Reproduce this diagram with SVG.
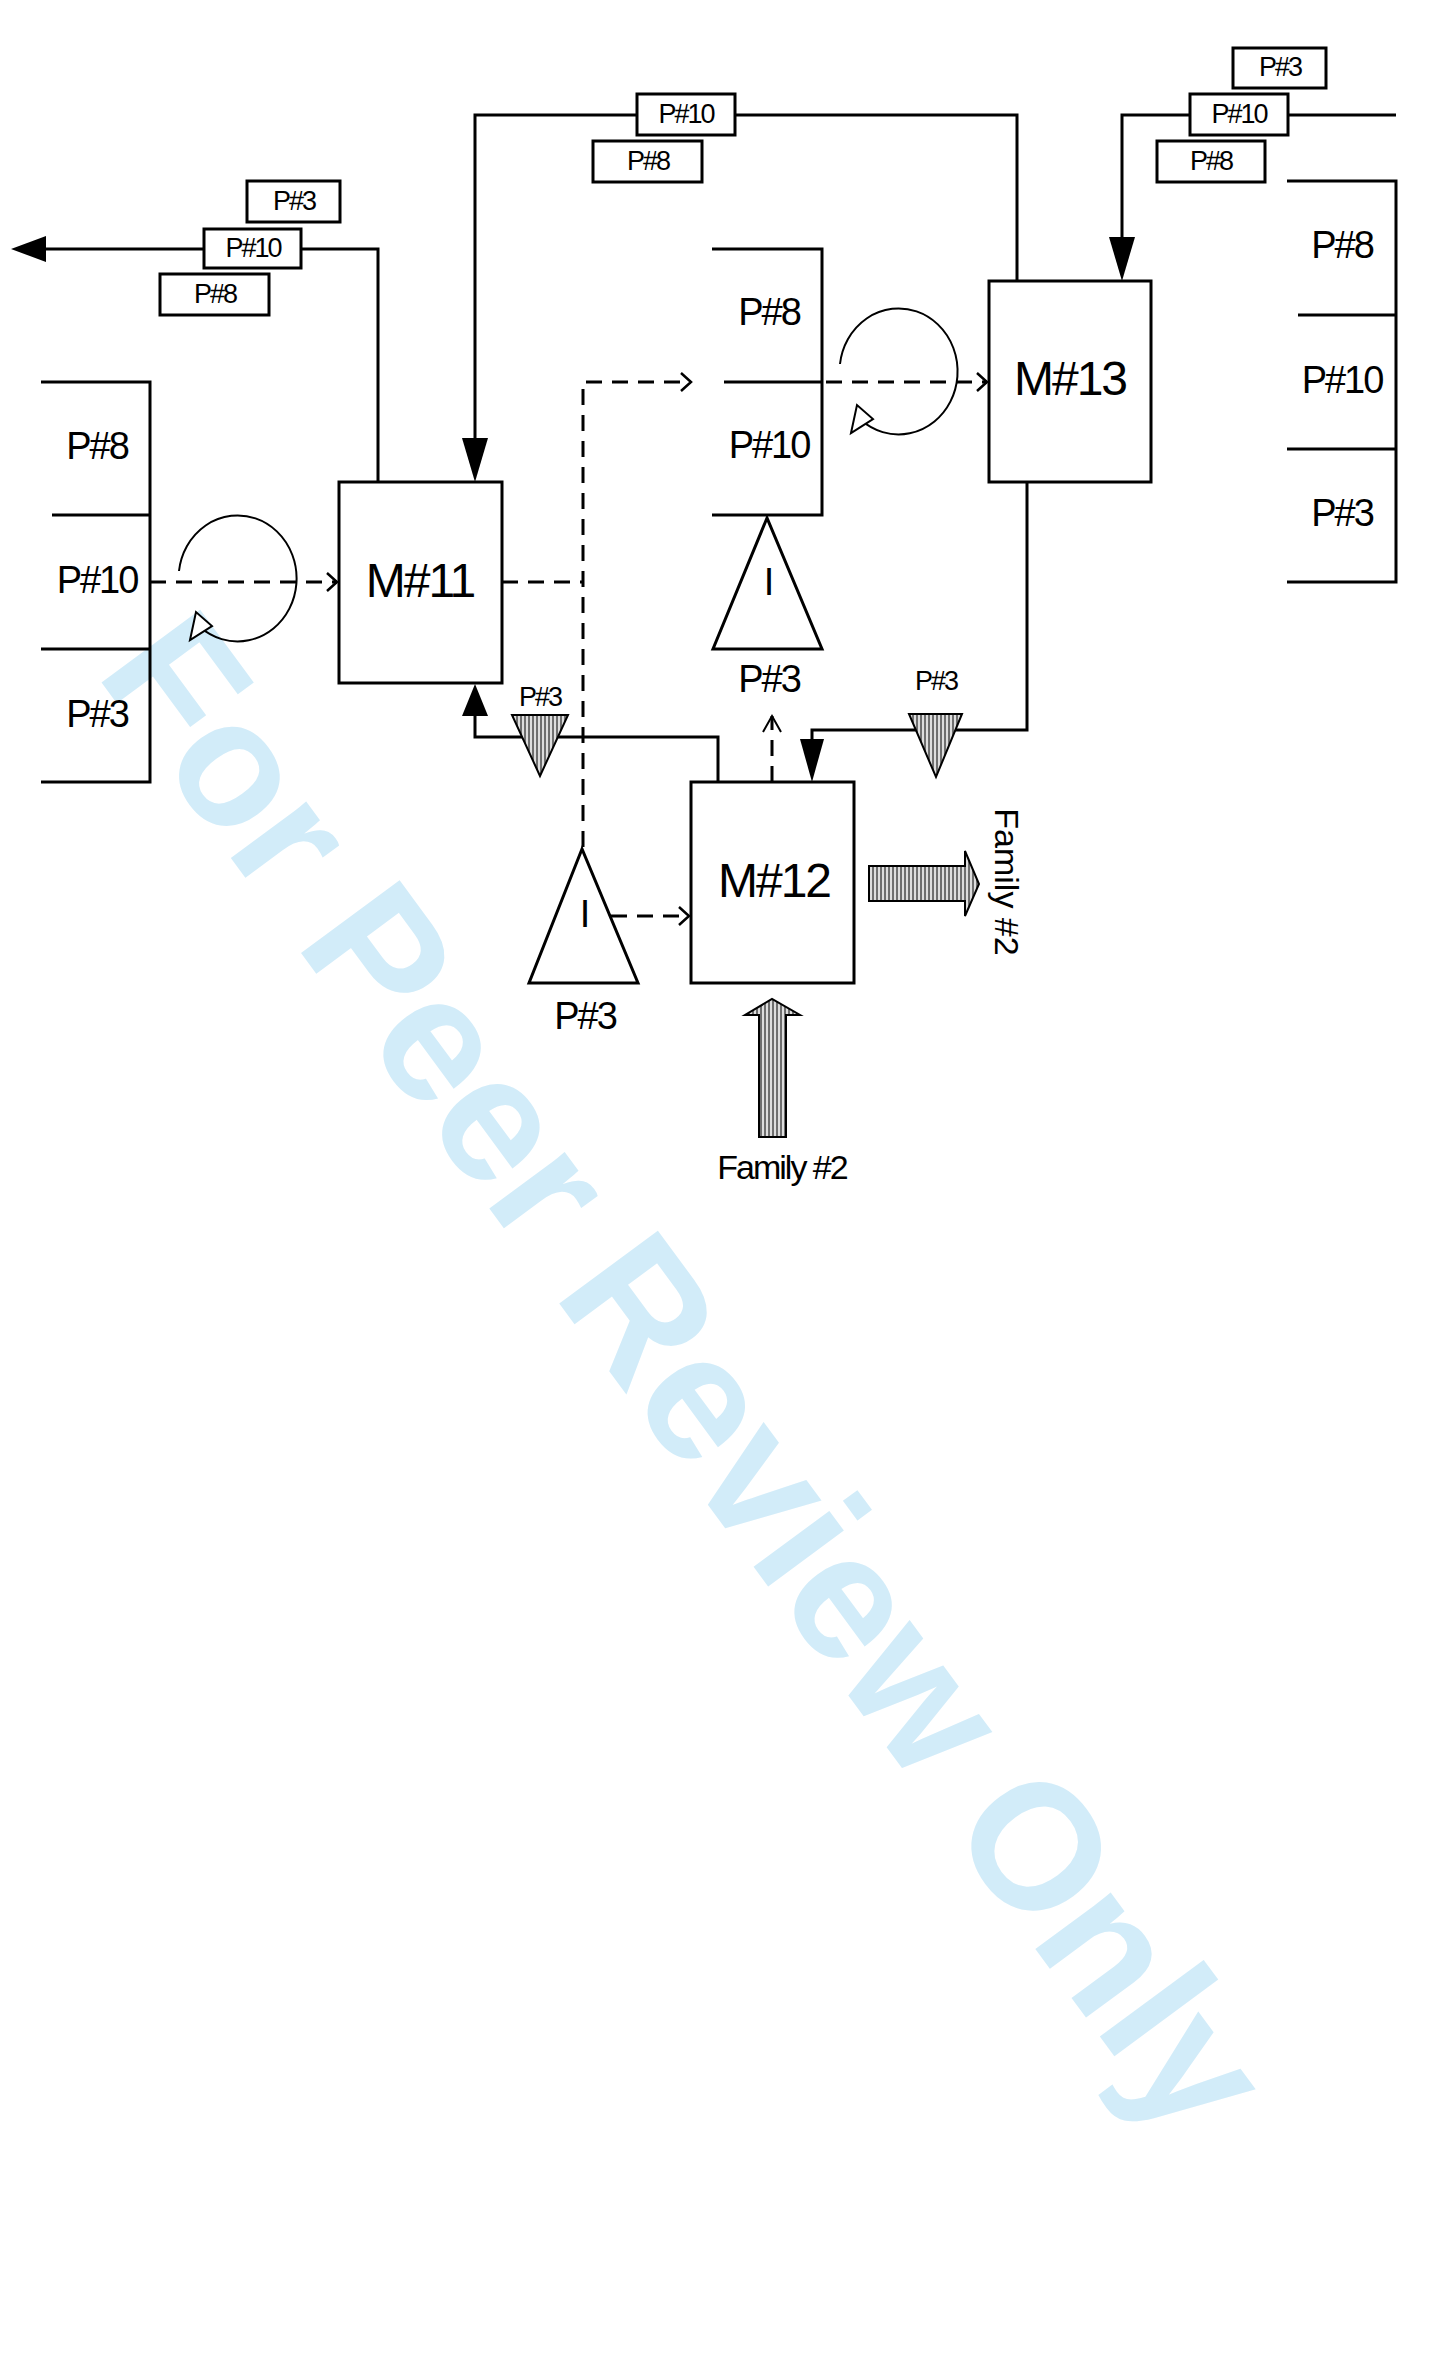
<svg xmlns="http://www.w3.org/2000/svg" width="1430" height="2375" viewBox="0 0 1430 2375">
<style>
.l{fill:none;stroke:#000;stroke-width:3}
.t{fill:none;stroke:#000;stroke-width:2}
.d{fill:none;stroke:#000;stroke-width:3;stroke-dasharray:16,10}
.bx{fill:#fff;stroke:#000;stroke-width:3}
text{font-family:"Liberation Sans",Arial,sans-serif;fill:#000;text-anchor:middle;dominant-baseline:central;letter-spacing:-2px}
.s{font-size:27px}.m{font-size:38px}.b{font-size:48px}
.h{fill:url(#hatch);stroke:#000;stroke-width:2}
</style>
<defs>
<pattern id="hatch" width="4" height="4" patternUnits="userSpaceOnUse"><rect width="4" height="4" fill="#ddd"/><line x1="1" y1="0" x2="1" y2="4" stroke="#000" stroke-width="1"/></pattern>
<marker id="fa" markerWidth="12" markerHeight="12" viewBox="0 0 12 12" refX="12" refY="6" orient="auto" markerUnits="userSpaceOnUse"><path d="M0,0 L12,6 L0,12z" fill="#000"/></marker>
<marker id="oa" markerWidth="14" markerHeight="20" viewBox="0 0 14 20" refX="12" refY="10" orient="auto" markerUnits="userSpaceOnUse"><path d="M2,1 L12,10 L2,19" fill="none" stroke="#000" stroke-width="2.5"/></marker>
</defs>
<text x="687" y="1373" transform="rotate(53.6 687 1373)" style="font-size:178px;font-weight:bold;fill:#d2ecf9;letter-spacing:0">For Peer Review Only</text>

<g id="connectors">
<polyline class="l" points="378,482 378,249 46,249"/>
<polygon points="11,249 46,236 46,262" fill="#000"/>
<polyline class="l" points="1017,281 1017,115 475,115 475,438"/>
<polygon points="475,482 462,438 488,438" fill="#000"/>
<polyline class="l" points="1396,115 1122,115 1122,237"/>
<polygon points="1122,281 1109,237 1135,237" fill="#000"/>
<polyline class="l" points="718,782 718,737 475,737 475,716"/>
<polygon points="475,684 462,716 488,716" fill="#000"/>
<polyline class="l" points="1027,482 1027,730 812,730 812,750"/>
<polygon points="812,782 800,739 824,739" fill="#000"/>
<line class="d" x1="150" y1="582" x2="337" y2="582" marker-end="url(#oa)"/>
<polyline class="d" points="502,582 583,582"/>
<polyline class="d" points="583,847 583,382 691,382" marker-end="url(#oa)"/>
<line class="l" x1="724" y1="382" x2="822" y2="382"/>
<line class="d" x1="826" y1="382" x2="987" y2="382" marker-end="url(#oa)"/>
<line class="d" x1="611" y1="916" x2="689" y2="916" marker-end="url(#oa)"/>
<line class="d" x1="772" y1="782" x2="772" y2="716"/>
<path class="t" d="M763,732 L772,716 L781,732"/>
</g>

<g id="recirc1"><path class="t" d="M179,571 A59,63 0 1 1 200,627"/><polygon points="190,640 196,612 212,626" fill="#fff" stroke="#000" stroke-width="2"/></g>
<g id="recirc2"><path class="t" d="M840,364 A59,63 0 1 1 861,420"/><polygon points="851,433 857,405 873,419" fill="#fff" stroke="#000" stroke-width="2"/></g>

<g id="stackL"><polyline class="l" points="41,382 150,382 150,782 41,782"/><line class="l" x1="52" y1="515" x2="150" y2="515"/><line class="l" x1="41" y1="649" x2="150" y2="649"/>
<text class="m" x="97" y="446">P#8</text><text class="m" x="97" y="580">P#10</text><text class="m" x="97" y="714">P#3</text></g>
<g id="stackM"><polyline class="l" points="712,249 822,249 822,515 712,515"/>
<text class="m" x="769" y="312">P#8</text><text class="m" x="769" y="445">P#10</text></g>
<g id="stackR"><polyline class="l" points="1287,181 1396,181 1396,582 1287,582"/><line class="l" x1="1298" y1="315" x2="1396" y2="315"/><line class="l" x1="1287" y1="449" x2="1396" y2="449"/>
<text class="m" x="1342" y="245">P#8</text><text class="m" x="1342" y="380">P#10</text><text class="m" x="1342" y="513">P#3</text></g>

<g id="M11"><rect class="bx" x="339" y="482" width="163" height="201"/><text class="b" x="420" y="580">M#11</text></g>
<g id="M13"><rect class="bx" x="989" y="281" width="162" height="201"/><text class="b" x="1070" y="378">M#13</text></g>
<g id="M12"><rect class="bx" x="691" y="782" width="163" height="201"/><text class="b" x="774" y="880">M#12</text></g>

<g id="tags1"><rect class="bx" x="247" y="181" width="93" height="41"/><text class="s" x="294" y="201">P#3</text>
<rect class="bx" x="204" y="229" width="97" height="39"/><text class="s" x="253" y="248">P#10</text>
<rect class="bx" x="160" y="274" width="109" height="41"/><text class="s" x="215" y="294">P#8</text></g>
<g id="tags2"><rect class="bx" x="637" y="94" width="98" height="41"/><text class="s" x="686" y="114">P#10</text>
<rect class="bx" x="593" y="141" width="109" height="41"/><text class="s" x="648" y="161">P#8</text></g>
<g id="tags3"><rect class="bx" x="1233" y="48" width="93" height="40"/><text class="s" x="1280" y="67">P#3</text>
<rect class="bx" x="1190" y="94" width="98" height="41"/><text class="s" x="1239" y="114">P#10</text>
<rect class="bx" x="1157" y="141" width="108" height="41"/><text class="s" x="1211" y="161">P#8</text></g>

<g id="inv1"><polygon class="bx" points="767,518 713,649 822,649"/><text class="m" x="768" y="582">I</text><text class="m" x="769" y="679">P#3</text></g>
<g id="inv2"><polygon class="bx" points="582,849 529,983 638,983"/><text class="m" x="584" y="914">I</text><text class="m" x="585" y="1016">P#3</text></g>
<g id="kan1"><polygon class="h" points="512,715 568,715 540,776"/><text class="s" x="540" y="697">P#3</text></g>
<g id="kan2"><polygon class="h" points="909,714 962,714 936,777"/><text class="s" x="936" y="681">P#3</text></g>

<g id="outArrow"><polygon class="h" points="869,866 965,866 965,851 979,884 965,916 965,901 869,901"/><text x="1007" y="882" transform="rotate(90 1007 882)" style="font-size:34px;letter-spacing:0">Family #2</text></g>
<g id="inArrow"><polygon class="h" points="759,1137 759,1015 745,1015 772,999 800,1015 786,1015 786,1137"/><text x="782" y="1167" style="font-size:34px">Family #2</text></g>
</svg>
